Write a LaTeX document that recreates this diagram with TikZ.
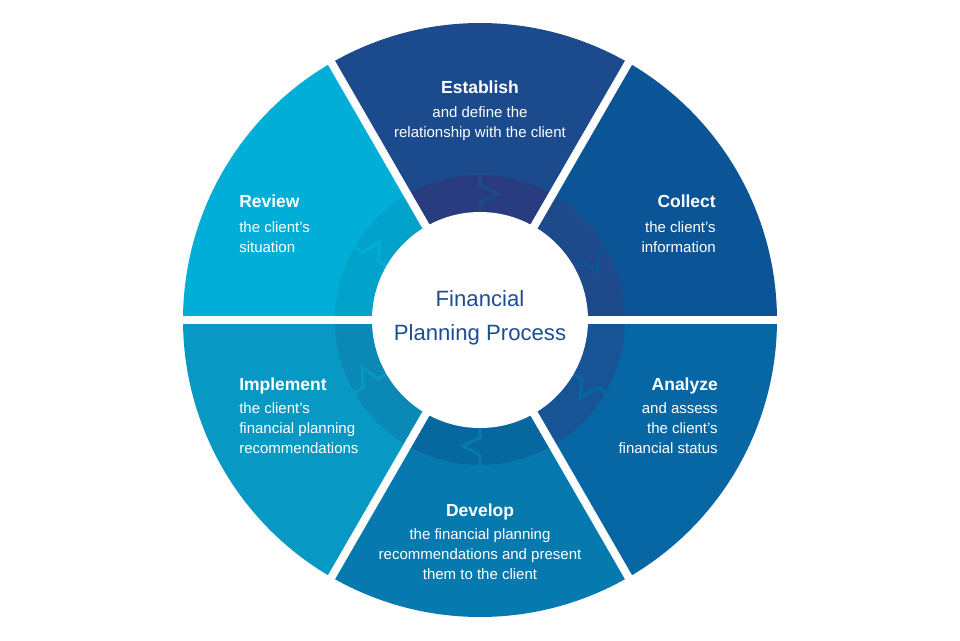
\documentclass[tikz,border=0pt]{standalone}
\usepackage{fontspec}
\setmainfont{Liberation Sans}
\definecolor{establishfill}{RGB}{27,75,141}
\definecolor{establishring}{RGB}{42,60,128}
\definecolor{collectfill}{RGB}{11,85,151}
\definecolor{collectring}{RGB}{30,74,139}
\definecolor{analyzefill}{RGB}{7,103,164}
\definecolor{analyzering}{RGB}{22,84,150}
\definecolor{developfill}{RGB}{6,121,175}
\definecolor{developring}{RGB}{6,104,159}
\definecolor{implementfill}{RGB}{8,152,196}
\definecolor{implementring}{RGB}{10,136,182}
\definecolor{reviewfill}{RGB}{0,174,215}
\definecolor{reviewring}{RGB}{3,162,203}
\definecolor{centertext}{RGB}{30,78,145}
\tikzset{
  sectortitle/.style={font=\fontsize{13.1}{15}\selectfont\bfseries, text=white, inner sep=0pt, anchor=base},
  sectortext/.style={font=\fontsize{11.25}{14.8}\selectfont, text=white, inner sep=0pt, anchor=base},
  chevron/.style={line width=2.25pt, line join=miter},
  divider/.style={line width=6pt, white},
}
\begin{document}
\begin{tikzpicture}[x=0.75pt,y=0.75pt]
        \useasboundingbox (-480,-320) rectangle (480,320);

        % Drawing sector Establish
        \fill [establishfill] (0,0) -- (60:297) arc [start angle=60, end angle=120, radius=297] -- cycle;%
        \fill [establishring] (60:100) -- (60:145) arc [start angle=60, end angle=120, radius=145] -- (120:100) -- cycle;%
        \draw [chevron, establishfill] (90:100) -- (90:118) -- (82:127) -- (90:135) -- (90:146);%

        % Drawing sector Collect
        \fill [collectfill] (0,0) -- (0:297) arc [start angle=0, end angle=60, radius=297] -- cycle;%
        \fill [collectring] (0:100) -- (0:145) arc [start angle=0, end angle=60, radius=145] -- (60:100) -- cycle;%
        \draw [chevron, collectfill] (30:100) -- (30:118) -- (22:127) -- (30:135) -- (30:146);%

        % Drawing sector Analyze
        \fill [analyzefill] (0,0) -- (-60:297) arc [start angle=-60, end angle=0, radius=297] -- cycle;%
        \fill [analyzering] (-60:100) -- (-60:145) arc [start angle=-60, end angle=0, radius=145] -- (0:100) -- cycle;%
        \draw [chevron, analyzefill] (-30:100) -- (-30:118) -- (-38:127) -- (-30:135) -- (-30:146);%

        % Drawing sector Develop
        \fill [developfill] (0,0) -- (-120:297) arc [start angle=-120, end angle=-60, radius=297] -- cycle;%
        \fill [developring] (-120:100) -- (-120:145) arc [start angle=-120, end angle=-60, radius=145] -- (-60:100) -- cycle;%
        \draw [chevron, developfill] (-90:100) -- (-90:118) -- (-98:127) -- (-90:135) -- (-90:146);%

        % Drawing sector Implement
        \fill [implementfill] (0,0) -- (180:297) arc [start angle=180, end angle=240, radius=297] -- cycle;%
        \fill [implementring] (180:100) -- (180:145) arc [start angle=180, end angle=240, radius=145] -- (240:100) -- cycle;%
        \draw [chevron, implementfill] (210:100) -- (210:118) -- (202:127) -- (210:135) -- (210:146);%

        % Drawing sector Review
        \fill [reviewfill] (0,0) -- (120:297) arc [start angle=120, end angle=180, radius=297] -- cycle;%
        \fill [reviewring] (120:100) -- (120:145) arc [start angle=120, end angle=180, radius=145] -- (180:100) -- cycle;%
        \draw [chevron, reviewfill] (150:100) -- (150:118) -- (142:127) -- (150:135) -- (150:146);%

        % Drawing white dividers and centre disc
        \foreach \a in {0,60,...,300}
          \draw [divider] (0,0) -- (\a:300);%
        \fill [white] (0,0) circle (108);%

        % Labels (multi-line texts sit on the baseline of their last line)
        \node [sectortitle] (establishtitle) at (0,227) {Establish};%
        \node [sectortext, align=center] (establishtext) at (0,183) {and define the\\relationship with the client};%
        \node [sectortitle, anchor=base east] (collecttitle) at (236,113) {Collect};%
        \node [sectortext, align=right, anchor=base east] (collecttext) at (236,68) {the client’s\\information};%
        \node [sectortitle, anchor=base east] (analyzetitle) at (238,-70) {Analyze};%
        \node [sectortext, align=right, anchor=base east] (analyzetext) at (238,-133) {and assess\\the client’s\\financial status};%
        \node [sectortitle] (developtitle) at (0,-196) {Develop};%
        \node [sectortext, align=center] (developtext) at (0,-259) {the financial planning\\recommendations and present\\them to the client};%
        \node [sectortitle, anchor=base west] (implementtitle) at (-241,-70) {Implement};%
        \node [sectortext, align=left, anchor=base west] (implementtext) at (-241,-133) {the client’s\\financial planning\\recommendations};%
        \node [sectortitle, anchor=base west] (reviewtitle) at (-241,113) {Review};%
        \node [sectortext, align=left, anchor=base west] (reviewtext) at (-241,68) {the client’s\\situation};%
        \node [font=\fontsize{16.6}{24.9}\selectfont, text=centertext, align=center, inner sep=0pt, anchor=base] (centre) at (0,-20) {Financial\\Planning Process};%
\end{tikzpicture}
\end{document}
